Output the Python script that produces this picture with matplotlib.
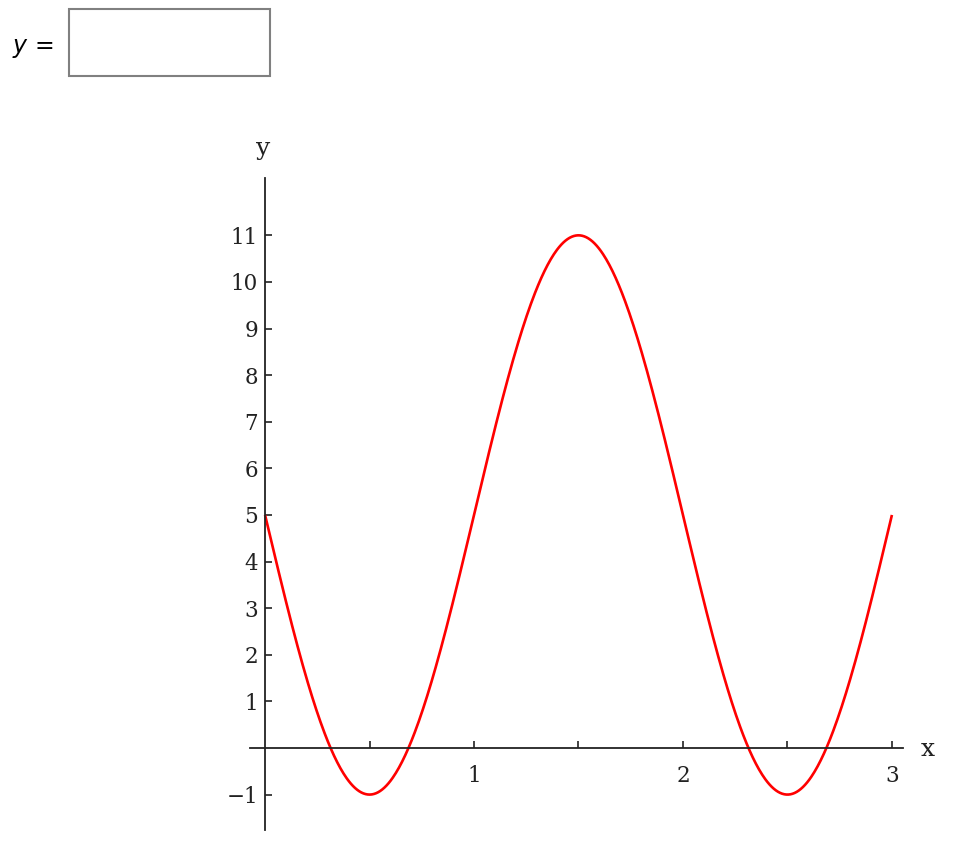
import numpy as np
from matplotlib import pyplot as plt
from matplotlib.patches import Rectangle

# sinusoid: starts at 5 going down, min -1 at x=0.5, max 11 at x=1.5
MIDLINE = 5
AMPLITUDE = 6
PERIOD = 2
X_START, X_END = 0, 3

Y_TICKS = list(range(-1, 12))
X_TICKS = [0.5, 1, 1.5, 2, 2.5, 3]
X_LABELED = [1, 2, 3]

x = np.linspace(X_START, X_END, 600)
y = MIDLINE - AMPLITUDE * np.sin(2 * np.pi * x / PERIOD)

W, H = 980, 860
fig = plt.figure(figsize=(W / 100, H / 100), dpi=100)
ax = fig.add_axes([250 / W, 1 - 830 / H, (903 - 250) / W, (830 - 178) / H])

ax.plot(x, y, color='red', lw=1.9, solid_capstyle='butt')
ax.set_xlim(-0.072, 3.053)
ax.set_ylim(-1.76, 12.23)

for s in ['top', 'right']:
    ax.spines[s].set_visible(False)
ax.spines['left'].set_position(('data', 0))
ax.spines['bottom'].set_position(('data', 0))
for s in ['left', 'bottom']:
    ax.spines[s].set_color('#222222')
    ax.spines[s].set_linewidth(1.3)

ax.set_yticks([t for t in Y_TICKS if t != 0])
ax.set_yticklabels([f'\u2212{-t}' if t < 0 else str(t) for t in Y_TICKS if t != 0])
ax.set_xticks(X_TICKS)
ax.set_xticklabels([str(t) if t in X_LABELED else '' for t in X_TICKS])
ax.tick_params(axis='both', direction='in', length=5, width=1.2, color='#222222',
               labelsize=15.5, labelcolor='#222222')
ax.tick_params(axis='x', pad=12)
ax.tick_params(axis='y', pad=5)
for lab in ax.get_xticklabels() + ax.get_yticklabels():
    lab.set_family('DejaVu Serif')

fig.text(263 / W, 1 - 155 / H, 'y', ha='center', va='baseline',
         family='DejaVu Serif', fontsize=18, color='#222222')
fig.text(928 / W, 1 - 750 / H, 'x', ha='center', va='center',
         family='DejaVu Serif', fontsize=18, color='#222222')

# answer field above the chart
fig.text(12 / W, 1 - 48 / H, '$y$ =', ha='left', va='center', fontsize=17,
         family='DejaVu Sans', color='black')
fig.patches.append(Rectangle((69 / W, 1 - 76 / H), (270 - 69) / W, (76 - 9) / H,
                             transform=fig.transFigure, fill=False,
                             edgecolor='#808080', lw=1.5))

plt.savefig('out.png', dpi=100)
